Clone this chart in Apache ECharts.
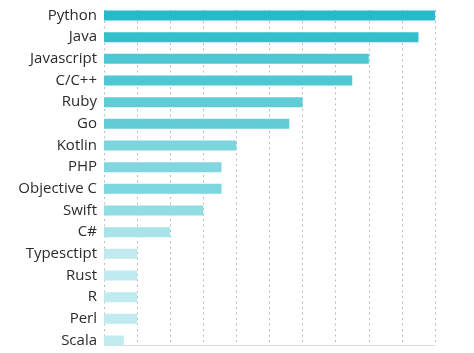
<!DOCTYPE html>
<html>
<head>
<meta charset="utf-8">
<script src="https://cdn.jsdelivr.net/npm/echarts@6/dist/echarts.min.js"></script>
<style>
  html, body { margin: 0; padding: 0; background: #fff; }
  #chart-container { width: 474px; height: 353px; }
</style>
</head>
<body>
<div id="chart-container"></div>
<script>
var languages = ['Python', 'Java', 'Javascript', 'C/C++', 'Ruby', 'Go', 'Kotlin', 'PHP',
  'Objective C', 'Swift', 'C#', 'Typesctipt', 'Rust', 'R', 'Perl', 'Scala'];
var scores = [10, 9.5, 8, 7.5, 6, 5.6, 4, 3.55, 3.55, 3, 2, 1, 1, 1, 1, 0.6];
var barColors = ['#27bbca', '#33bfcc', '#4bc6d2', '#4fc8d3', '#5fccd6', '#62cdd7', '#7ad5dd', '#80d7df',
  '#7cd6de', '#92dce3', '#a8e3e9', '#bfeaef', '#bfeaef', '#bfeaef', '#bfeaef', '#c0ebef'];

var dom = document.getElementById('chart-container');
var myChart = echarts.init(dom, null, { renderer: 'canvas' });

var option = {
  animation: false,
  grid: [
    // grid 0 only draws the dashed lines and the bottom axis line
    { left: 104, right: 39, top: 10, bottom: 8 },
    // grid 1 holds the bars, first and last bar sit on the edges
    { left: 104, right: 39, top: 15.5, bottom: 12.5 }
  ],
  xAxis: [
    {
      gridIndex: 0, type: 'value', min: 0, max: 10, interval: 1,
      axisLabel: { show: false },
      axisTick: { show: false },
      axisLine: { show: true, lineStyle: { color: '#d9d9d9', width: 1 } },
      splitLine: { show: true, lineStyle: { color: '#bbbbbb', type: [2, 3.5], width: 1 } }
    },
    {
      gridIndex: 1, type: 'value', min: 0, max: 10, interval: 1, show: false,
      splitLine: { show: false }
    }
  ],
  yAxis: [
    {
      gridIndex: 0, type: 'value', show: false, splitLine: { show: false }
    },
    {
      gridIndex: 1, type: 'category', inverse: true, boundaryGap: false,
      data: languages,
      axisLine: { show: false },
      axisTick: { show: false },
      axisLabel: {
        margin: 7, color: '#2b2b2b', fontSize: 15,
        fontFamily: '"Open Sans", sans-serif'
      }
    }
  ],
  series: [
    {
      type: 'bar', xAxisIndex: 1, yAxisIndex: 1,
      barWidth: 10,
      data: scores.map(function (v, i) {
        return { value: v, itemStyle: { color: barColors[i] } };
      })
    }
  ]
};

myChart.setOption(option);
window.addEventListener('resize', myChart.resize);
</script>
</body>
</html>
